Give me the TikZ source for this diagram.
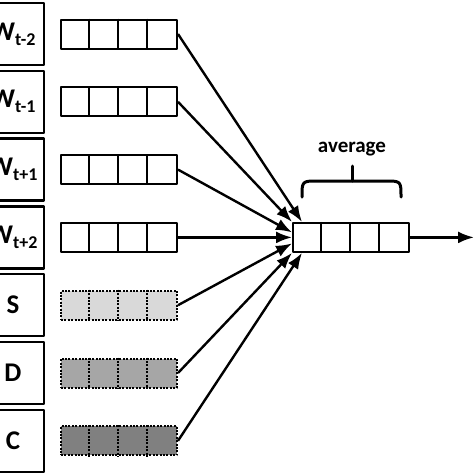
\documentclass[tikz,border=0pt]{standalone}
\usepackage{fontspec}
\setmainfont{Carlito}
\usetikzlibrary{arrows.meta}
\newcommand{\idx}[1]{\raisebox{-5pt}{\fontsize{18}{19}\selectfont #1}}
\definecolor{ctxS}{gray}{0.85}
\definecolor{ctxD}{gray}{0.65}
\definecolor{ctxC}{gray}{0.50}
\begin{document}
\begin{tikzpicture}[x=1pt,y=-1pt, line join=round,
	wordbox/.style={draw, line width=2.5pt, minimum width=62pt, minimum height=62pt, inner sep=0pt, font=\fontsize{27}{29}\selectfont\bfseries},
	vecbox/.style={draw, line width=2pt, minimum width=116pt, minimum height=29pt, inner sep=0pt},
	dotvec/.style={vecbox, dash pattern=on 2pt off 1.4pt},
	arr/.style={line width=2.4pt, -{Latex[length=16pt,width=12pt]}}]
	% --- Khung hình ---
	\useasboundingbox (0,0) rectangle (474,474);
	\clip (0,0) rectangle (474,474);
	\def\dy{67.8}
	
	% --- Các ô từ bên trái ---
	\node[wordbox] (wa) at (13,34) {W\idx{t-2}};
	\node[wordbox] (wb) at (13,34+\dy) {W\idx{t-1}};
	\node[wordbox] (wc) at (13,34+2*\dy) {W\idx{t+1}};
	\node[wordbox] (wd) at (13,34+3*\dy) {W\idx{t+2}};
	\node[wordbox] (s) at (13,34+4*\dy) {S};
	\node[wordbox] (d) at (13,34+5*\dy) {D};
	\node[wordbox] (c) at (13,34+6*\dy) {C};
	
	% --- Các vector ---
	\foreach \i in {1,...,4}
		\node[vecbox] (v\i) at (119,34+\i*\dy-\dy) {};
	\node[dotvec, fill=ctxS] (v5) at (119,34+4*\dy) {};
	\node[dotvec, fill=ctxD] (v6) at (119,34+5*\dy) {};
	\node[dotvec, fill=ctxC] (v7) at (119,34+6*\dy) {};
	\foreach \i in {1,...,4}
		\foreach \k in {1,2,3}
			\draw[line width=2pt] ([xshift={29*\k}]v\i.north west) -- ([xshift={29*\k}]v\i.south west);
	\foreach \i in {5,6,7}
		\foreach \k in {1,2,3}
			\draw[line width=2pt, dash pattern=on 2pt off 1.4pt] ([xshift={29*\k}]v\i.north west) -- ([xshift={29*\k}]v\i.south west);
	
	% --- Vector trung bình ---
	\node[vecbox] (avg) at (351,34+3*\dy) {};
	\foreach \k in {1,2,3}
		\draw[line width=2pt] ([xshift={29*\k}]avg.north west) -- ([xshift={29*\k}]avg.south west);
	
	% --- Các mũi tên ---
	\draw[arr] (v1.east) -- ([xshift=10pt]avg.north west);
	\draw[arr] (v2.east) -- (avg.north west);
	\draw[arr] (v3.east) -- ([yshift=5pt]avg.west);
	\draw[arr] (v4.east) -- (avg.west);
	\draw[arr] (v5.east) -- ([yshift=-6pt]avg.west);
	\draw[arr] (v6.east) -- (avg.south west);
	\draw[arr] (v7.east) -- ([xshift=10pt]avg.south west);
	\coordinate (out) at (474,34+3*\dy);
	\draw[arr] (avg.east) -- (out);
	
	% --- Dấu ngoặc ---
	\draw[line width=3pt, line cap=round] (302,197) .. controls (302,181) .. (318,181) -- (385,181) .. controls (401,181) .. (401,197);
	\draw[line width=3pt, line cap=round] (352,181) -- (352,166);
	\node[anchor=base, font=\fontsize{21}{22}\selectfont\bfseries] (lbl) at (352,152) {average};
\end{tikzpicture}
\end{document}
